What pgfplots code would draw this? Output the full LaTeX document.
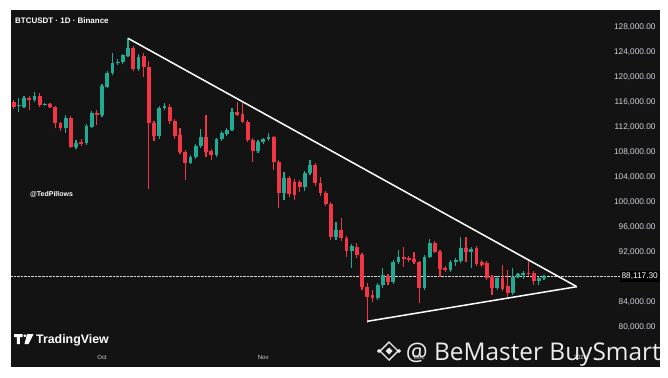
\documentclass[border=0pt]{standalone}
\usepackage{fontspec}
\setmainfont{Liberation Sans}
\newfontfamily\wm{Open Sans}
\usepackage{pgfplots}
\pgfplotsset{compat=1.18}
\usepackage{pgfplotstable}
\definecolor{bg}{HTML}{131313}
\definecolor{up}{HTML}{22AB94}
\definecolor{dn}{HTML}{F23645}
\definecolor{lbl}{HTML}{D1D4DC}

\pgfplotstableread{
d o h l c
-16 115300 116640 114400 115500
-15 115248 117000 115000 116688
-13 116320 117650 116000 117008
-11 115520 115900 115300 115680
-7 111792 113920 111000 113392
-5 108848 109900 108500 109488
-3 109392 112400 109100 112160
-2 112050 114600 111800 114300
0 113920 118900 113600 118560
1 118450 120900 118200 120590
2 120590 123790 120300 122190
3 122190 122800 121900 122450
4 122450 123700 122000 123520
5 123400 126190 123200 124590
7 121230 123600 120900 123250
11 110560 115300 110000 114990
12 114990 115890 114700 115300
17 106290 107500 106000 107150
18 107150 109300 106800 108990
19 108990 111630 108700 110450
22 107520 110300 107200 110030
23 110030 111300 109800 110990
24 110880 111800 110600 111520
25 111520 115000 111300 114450
30 108210 109900 107900 109550
31 109550 110300 109300 110030
32 110030 111090 109800 110450
35 101390 104800 100320 103790
39 102350 104900 101800 104590
40 104590 106720 104300 105920
45 94350 96800 94000 95520
48 92110 93300 89440 92910
53 84690 87100 84400 86720
54 86720 89440 86300 88320
56 87250 90800 86900 90450
57 90450 92320 90100 91250
62 86190 91500 85900 91250
63 91250 94080 91000 93390
67 89120 90700 88800 90350
68 90350 91000 89700 90720
69 90560 94450 90200 92690
71 92050 92800 89440 92480
76 86290 88100 85900 87890
79 85490 89440 85200 88050
80 88050 88700 87800 88430
81 88300 89000 87680 88690
84 87360 88000 86720 87790
85 87790 88400 87500 88117
}\greentab

\pgfplotstableread{
d o h l c
-17 116048 116300 114900 115152
-14 116688 117000 114720 116320
-12 117008 117392 115150 115520
-10 115680 115800 115000 115150
-9 115152 115300 111790 112592
-8 112592 112800 111400 111792
-6 113392 113700 108590 108848
-4 109650 110000 108900 109230
-1 114300 114720 112320 113920
6 124590 125000 120900 121230
8 123360 123800 120000 121650
9 121650 122500 102080 112690
10 112690 113000 109700 110560
13 115150 115700 112480 113010
14 113010 113300 110080 110560
15 110720 111840 107600 108050
16 108050 108300 103520 106290
20 110450 113920 107250 108050
21 108210 108500 106720 107520
26 114450 116050 113700 113920
27 114080 115800 112600 112850
28 112850 113100 109600 109920
29 109920 110300 106450 108210
33 110450 110600 105120 106450
34 106450 106700 99040 101390
36 103790 104200 100800 101330
37 103250 103600 100320 101120
38 103250 103500 101600 102350
41 105920 106200 102600 102990
42 102990 104000 100900 101390
43 101390 101700 99300 99680
44 99680 100000 93920 94350
46 95520 97440 93800 94190
47 94190 94500 91200 92110
49 92850 93440 91000 91520
50 91520 91800 86000 86450
51 86450 87040 80640 84850
52 85120 86000 84000 84690
55 88210 88500 86720 87250
58 91250 92800 89600 90830
59 91040 91300 90400 90720
60 90830 92000 90100 90450
61 90350 90600 83790 86190
64 93390 93800 91800 92050
65 92050 92300 88050 89280
66 89490 89700 88800 89120
70 92690 94400 90400 91950
72 92590 92900 89700 90080
73 90450 90700 89600 89920
74 90190 90500 87600 87890
75 88050 88300 85120 86290
77 87890 89920 85800 86080
78 86510 89120 84800 85490
82 88690 90560 88100 88420
83 88690 89000 86720 87360
}\redtab

\begin{document}
\begin{tikzpicture}[x=1bp,y=1bp]
\fill[white] (0,0) rectangle (668,377);
\begin{axis}[
  at={(11bp,10bp)}, anchor=south west,
  width=649bp, height=357bp, scale only axis,
  xmin=-17.5, xmax=107.3, ymin=73600, ymax=130720,
  axis background/.style={fill=bg},
  axis line style={draw=none},
  major tick length=0pt,
  scaled y ticks=false,
  ytick={80000,84000,92000,96000,100000,104000,108000,112000,116000,120000,124000,128000},
  yticklabels={{80,000.00},{84,000.00},{92,000.00},{96,000.00},{100,000.00},{104,000.00},{108,000.00},{112,000.00},{116,000.00},{120,000.00},{124,000.00},{128,000.00}},
  yticklabel pos=right,
  yticklabel style={anchor=east, xshift=-1bp, font=\fontsize{8.3}{9}\selectfont, text=lbl},
  xtick={0,31,61,92},
  xticklabels={Oct,Nov,Dec,2026},
  xticklabel style={anchor=base, yshift=8bp, font=\fontsize{6}{7}\selectfont, text=lbl},
  clip=true,
]
\addplot[forget plot, densely dotted, color=gray!32] coordinates {(-17.5,88117) (107.3,88117)};
% wicks
\addplot[forget plot, draw=up, line width=1.1bp, -, mark=none,
  quiver={u=0, v=\thisrow{h}-\thisrow{l}}]
  table[x=d, y=l] {\greentab};
\addplot[forget plot, draw=dn, line width=1.1bp, -, mark=none,
  quiver={u=0, v=\thisrow{h}-\thisrow{l}}]
  table[x=d, y=l] {\redtab};
% bodies
\addplot[forget plot, draw=up, line width=3.8bp, -, mark=none,
  quiver={u=0, v=\thisrow{c}-\thisrow{o}}]
  table[x=d, y=o] {\greentab};
\addplot[forget plot, draw=dn, line width=3.8bp, -, mark=none,
  quiver={u=0, v=\thisrow{o}-\thisrow{c}}]
  table[x=d, y=c] {\redtab};
% trend lines
\addplot[forget plot, white, line width=1.5bp] coordinates {(5,126190) (91.3,86450)};
\addplot[forget plot, white, line width=1.5bp] coordinates {(51,80910) (91.3,86450)};
\node[anchor=east, fill=black, text=white, font=\fontsize{8.3}{9}\selectfont, inner sep=2bp] at (axis cs:107.3,88117) {88,117.30};
\end{axis}
% texts
\node[anchor=west, text=white, font=\bfseries\fontsize{8}{9}\selectfont, inner sep=0] at (15,356) {BTCUSDT · 1D · Binance};
\node[anchor=west, text=white, font=\bfseries\fontsize{7}{8}\selectfont, inner sep=0] at (30,182.5) {@TedPillows};
% TradingView logo
\fill[white] (14,43) rectangle (22.5,40) (16.8,43) rectangle (19.8,33);
\fill[white] (24.8,41.3) circle (1.5);
\fill[white] (27,43) -- (33.5,43) -- (28.5,33) -- (24.5,33) -- cycle;
\node[anchor=base west, text=white, font=\bfseries\fontsize{12.4}{14}\selectfont, inner sep=0] at (36,34) {TradingView};
% watermark
\begin{scope}[white, opacity=0.9, line width=1.4bp]
\draw (389,17) -- (398,26) -- (389,35) -- (380,26) -- cycle;
\fill (389,22.5) -- (392.5,26) -- (389,29.5) -- (385.5,26) -- cycle;
\fill (379,26) ++(-2.2,0) -- ++(2.2,2.2) -- ++(2.2,-2.2) -- ++(-2.2,-2.2) -- cycle;
\fill (399,26) ++(-2.2,0) -- ++(2.2,2.2) -- ++(2.2,-2.2) -- ++(-2.2,-2.2) -- cycle;
\end{scope}
\node[anchor=base east, text=white, opacity=0.92, font=\wm\fontsize{24.5}{28}\selectfont, inner sep=0] at (661,17) {@ BeMaster BuySmart};
\end{tikzpicture}
\end{document}
